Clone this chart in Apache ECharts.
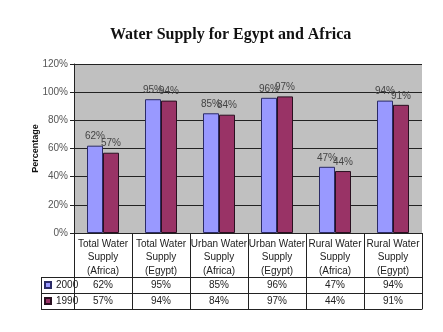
<!DOCTYPE html>
<html>
<head>
<meta charset="utf-8">
<script src="https://cdn.jsdelivr.net/npm/echarts@6/dist/echarts.min.js"></script>
<style>
  html, body { margin: 0; padding: 0; background: #fff; }
  #chart { width: 443px; height: 332px; }
</style>
</head>
<body>
<div id="chart"></div>
<script>
// Water supply coverage (%) by category
const categories = [
  'Total Water\nSupply\n(Africa)',
  'Total Water\nSupply\n(Egypt)',
  'Urban Water\nSupply\n(Africa)',
  'Urban Water\nSupply\n(Egypt)',
  'Rural Water\nSupply\n(Africa)',
  'Rural Water\nSupply\n(Egypt)'
];
const values2000 = [62, 95, 85, 96, 47, 94];
const values1990 = [57, 94, 84, 97, 44, 91];
const yTicks = { min: 0, max: 120, interval: 20 };

// Plot area and data-table layout
const G = { left: 74, top: 64, right: 21, bottom: 99 };
const W = 443, H = 332;
const plotBottom = H - G.bottom;      // y of the 0% line
const catRow = 44, valRow = 16;       // table row heights
const tableLeft = 41;
const lineColor = '#222';
const textColor = '#222';
const font = 'Liberation Sans, Arial, sans-serif';

const pct = v => v + '%';

const chart = echarts.init(document.getElementById('chart'), null, { renderer: 'canvas' });

const hLine = (y) => ({
  type: 'line',
  shape: { x1: tableLeft, y1: y + 0.5, x2: G.left, y2: y + 0.5 },
  style: { stroke: lineColor, lineWidth: 1 }
});

chart.setOption({
  animation: false,
  backgroundColor: '#fff',
  title: {
    text: 'Water Supply for Egypt and Africa',
    left: 105,
    top: 22,
    textStyle: { fontFamily: 'Liberation Serif, Times New Roman, serif', fontWeight: 'bold', fontSize: 16, color: '#111' }
  },
  legend: {
    orient: 'vertical',
    left: tableLeft + 3,
    top: plotBottom + catRow + 2,
    padding: 0,
    itemWidth: 6,
    itemHeight: 6,
    itemGap: 4,
    icon: 'rect',
    textStyle: { fontFamily: font, fontSize: 10, color: textColor, lineHeight: 12 },
    data: ['2000', '1990']
  },
  grid: {
    left: G.left, top: G.top, right: G.right, bottom: G.bottom,
    show: true, backgroundColor: '#c0c0c0', borderWidth: 0
  },
  xAxis: [
    {
      type: 'category',
      data: categories,
      position: 'bottom',
      axisLine: { show: true, lineStyle: { color: lineColor } },
      axisTick: { show: true, length: catRow + 2 * valRow, lineStyle: { color: lineColor } },
      axisLabel: { interval: 0, fontFamily: font, fontSize: 10, lineHeight: 13.5, color: textColor, margin: 4 }
    },
    {
      type: 'category',
      data: values2000.map(pct),
      position: 'bottom',
      offset: catRow,
      axisLine: { show: true, lineStyle: { color: lineColor } },
      axisTick: { show: false },
      axisLabel: { interval: 0, fontFamily: font, fontSize: 10, color: textColor, margin: 3 }
    },
    {
      type: 'category',
      data: values1990.map(pct),
      position: 'bottom',
      offset: catRow + valRow,
      axisLine: { show: true, lineStyle: { color: lineColor } },
      axisTick: { show: false },
      axisLabel: { interval: 0, fontFamily: font, fontSize: 10, color: textColor, margin: 3 }
    },
    {
      type: 'category',
      data: categories,
      position: 'bottom',
      offset: catRow + 2 * valRow,
      axisLine: { show: true, lineStyle: { color: lineColor } },
      axisTick: { show: false },
      axisLabel: { show: false }
    }
  ],
  yAxis: {
    type: 'value',
    min: yTicks.min, max: yTicks.max, interval: yTicks.interval,
    name: 'Percentage',
    nameLocation: 'middle',
    nameGap: 34,
    nameMoveOverlap: false,
    nameTextStyle: { fontFamily: font, fontSize: 9, fontWeight: 'bold', color: '#111' },
    axisLine: { show: true, lineStyle: { color: lineColor } },
    axisTick: { show: true, length: 4, lineStyle: { color: lineColor } },
    axisLabel: { formatter: '{value}%', fontFamily: font, fontSize: 10, color: '#555', margin: 6 },
    splitLine: { show: true, lineStyle: { color: lineColor, width: 1 } }
  },
  series: [
    {
      name: '2000',
      type: 'bar',
      data: values2000,
      barWidth: 16,
      barGap: '0%',
      itemStyle: { color: '#9999ff', borderColor: '#2b2b66', borderWidth: 1 },
      label: { show: true, position: 'top', distance: 4, formatter: '{c}%', fontFamily: font, fontSize: 10, color: '#444' }
    },
    {
      name: '1990',
      type: 'bar',
      data: values1990,
      barWidth: 16,
      barGap: '0%',
      itemStyle: { color: '#993366', borderColor: '#2a1020', borderWidth: 1 },
      label: { show: true, position: 'top', distance: 4, formatter: '{c}%', fontFamily: font, fontSize: 10, color: '#444' }
    }
  ],
  graphic: [
    hLine(plotBottom + catRow),
    hLine(plotBottom + catRow + valRow),
    hLine(plotBottom + catRow + 2 * valRow),
    {
      type: 'line',
      shape: { x1: tableLeft + 0.5, y1: plotBottom + catRow, x2: tableLeft + 0.5, y2: plotBottom + catRow + 2 * valRow + 1 },
      style: { stroke: lineColor, lineWidth: 1 }
    }
  ]
});
</script>
</body>
</html>
